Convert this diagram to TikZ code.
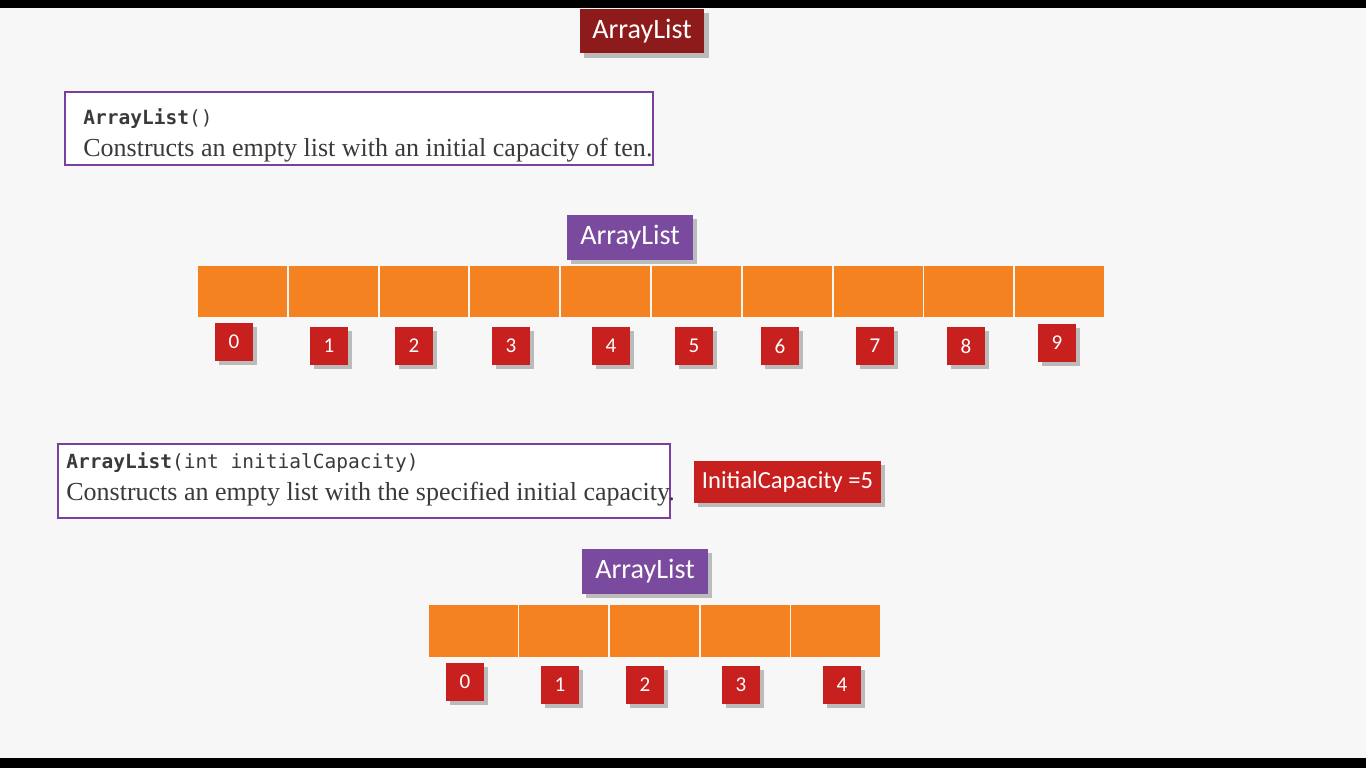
\documentclass[tikz,border=0pt]{standalone}
\usepackage{fontspec}
\setmainfont{Liberation Serif}
\newfontfamily\lblfont{Carlito}
\setmonofont{DejaVu Sans Mono}
\usetikzlibrary{shadows}
\definecolor{bgcol}{HTML}{F7F7F7}
\definecolor{darkred}{HTML}{8E1B1B}
\definecolor{idxred}{HTML}{C8201F}
\definecolor{purp}{HTML}{7A4A9E}
\definecolor{purpbox}{HTML}{7B3F9C}
\definecolor{cellor}{HTML}{F58220}
\definecolor{txtcol}{HTML}{3A3A3A}
\tikzset{
  titlebox/.style={draw=none,fill=darkred,text=white,minimum width=2.5cm,minimum height=0.9cm,font=\lblfont\fontsize{16}{19}\selectfont,drop shadow},
  listlbl/.style={draw=none,fill=purp,text=white,minimum width=2.52cm,minimum height=0.9cm,font=\lblfont\fontsize{16}{19}\selectfont,drop shadow},
  idx/.style={draw=none,fill=idxred,text=white,minimum width=0.76cm,minimum height=0.76cm,font=\lblfont\fontsize{12}{14}\selectfont,drop shadow},
  cell/.style={fill=cellor,draw=none,minimum width=1.78cm,minimum height=1.03cm,inner sep=0pt},
  docbox/.style={draw=purpbox,line width=1.5pt,fill=white},
}
\begin{document}
\begin{tikzpicture}[x=0.02cm,y=-0.02cm]
	%background
	\fill[bgcol] (0,0) rectangle (1366,768);
	\fill[black] (0,0) rectangle (1366,8);
	\fill[black] (0,758) rectangle (1366,768);
	%title
	\node[titlebox] (title) at (642,31) {ArrayList};
	%first constructor
	\draw[docbox] (65,92) rectangle (653,165);
	\node[anchor=west,inner sep=0pt,font=\ttfamily\bfseries\fontsize{11.1}{14}\selectfont,text=txtcol] (sigA) at (83,119) {ArrayList\mdseries()};
	\node[anchor=west,inner sep=0pt,font=\fontsize{14.8}{18}\selectfont,text=txtcol] (descA) at (83,150) {Constructs an empty list with an initial capacity of ten.};
	\node[listlbl] (listA) at (630,237) {ArrayList};
	\foreach \i in {0,...,9}
		\node[cell] (a\i) at (242.4+90.8*\i,291.5) {};
	\foreach \i/\x/\y in {0/234/342,1/329/346,2/414/346,3/511/346,4/611/346,5/694/346,6/780/346,7/875/346,8/966/346,9/1057/343}
		\node[idx] (ia\i) at (\x,\y) {\i};
	%second constructor
	\draw[docbox] (58,444) rectangle (670,518);
	\node[anchor=west,inner sep=0pt,font=\ttfamily\fontsize{11.1}{14}\selectfont,text=txtcol] (sigB) at (66,463) {\bfseries ArrayList\mdseries(int initialCapacity)};
	\node[anchor=west,inner sep=0pt,font=\fontsize{14.8}{18}\selectfont,text=txtcol] (descB) at (66,494) {Constructs an empty list with the specified initial capacity.};
	\node[idx,minimum width=3.74cm,minimum height=0.84cm,font=\lblfont\fontsize{14}{17}\selectfont] (cap) at (787.5,482) {InitialCapacity =5};
	\node[listlbl] (listB) at (645,571) {ArrayList};
	\foreach \i in {0,...,4}
		\node[cell] (b\i) at (473.3+90.6*\i,631) {};
	\foreach \i/\x/\y in {0/465/682,1/560/685,2/645/685,3/741/685,4/842/685}
		\node[idx] (ib\i) at (\x,\y) {\i};
\end{tikzpicture}
\end{document}
